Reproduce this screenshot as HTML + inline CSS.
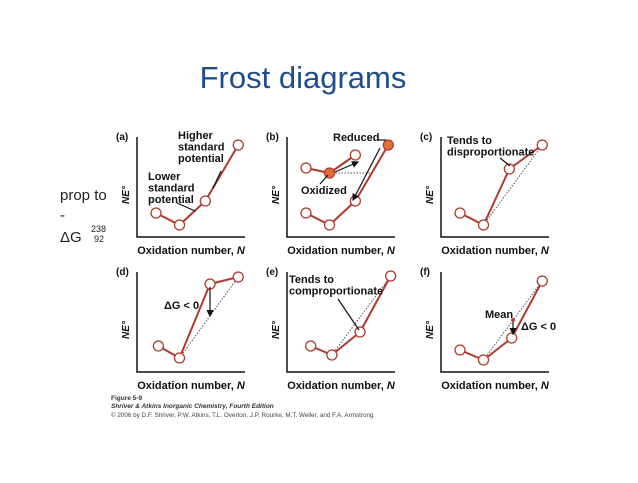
<!DOCTYPE html>
<html><head><meta charset="utf-8"><style>
body{margin:0;background:#fff;}
svg text{font-family:"Liberation Sans",sans-serif;}
</style></head><body>
<svg width="638" height="478" viewBox="0 0 638 478" xmlns="http://www.w3.org/2000/svg">
<defs><marker id="ar" markerWidth="6" markerHeight="6" refX="5" refY="3" orient="auto"><path d="M0,0 L6,3 L0,6 z" fill="#111"/></marker></defs>
<text x="303" y="88" font-size="31" fill="#1f4e8c" text-anchor="middle">Frost diagrams</text>
<text x="60" y="200" font-size="15" fill="#222">prop to</text>
<text x="60" y="220" font-size="15" fill="#222">-</text>
<text x="60" y="242" font-size="15" fill="#222">ΔG</text>
<text x="91" y="232" font-size="9" fill="#222">238</text>
<text x="94" y="242" font-size="9" fill="#222">92</text>
<g id="charts"></g>
<g font-size="11" font-weight="bold" fill="#111">
<text x="178" y="139"><tspan x="178">Higher</tspan><tspan x="178" dy="11.5">standard</tspan><tspan x="178" dy="11.5">potential</tspan></text>
<text x="148" y="180"><tspan x="148">Lower</tspan><tspan x="148" dy="11.5">standard</tspan><tspan x="148" dy="11.5">potential</tspan></text>
<text x="333" y="141">Reduced</text>
<text x="301" y="194">Oxidized</text>
<text x="447" y="144"><tspan x="447">Tends to</tspan><tspan x="447" dy="11.5">disproportionate</tspan></text>
<text x="289" y="283"><tspan x="289">Tends to</tspan><tspan x="289" dy="11.5">comproportionate</tspan></text>
<text x="164" y="309">ΔG &lt; 0</text>
<text x="485" y="318">Mean</text>
<text x="521" y="330">ΔG &lt; 0</text>
</g>
<g stroke="#111" stroke-width="1.2" fill="none">
<line x1="221" y1="171" x2="213" y2="188"/>
<line x1="177" y1="203" x2="195" y2="211"/>
<line x1="378" y1="140" x2="386" y2="140"/>
<line x1="320" y1="184" x2="328" y2="175"/>
<line x1="335" y1="172" x2="358" y2="162" marker-end="url(#ar)"/>
<line x1="380" y1="148" x2="353" y2="200" marker-end="url(#ar)"/>
<line x1="500" y1="158" x2="510" y2="166"/>
<line x1="338" y1="299" x2="359" y2="330"/>
<line x1="210" y1="287" x2="210" y2="316" marker-end="url(#ar)"/>
<line x1="513" y1="322" x2="513" y2="334" marker-end="url(#ar)"/>
</g>
<circle cx="513" cy="320" r="2" fill="#c0392b"/>
<text x="111" y="400" font-size="6.5" font-weight="bold" fill="#333">Figure 5-9</text>
<text x="111" y="408" font-size="6.5" font-weight="bold" font-style="italic" fill="#333">Shriver &amp; Atkins Inorganic Chemistry, Fourth Edition</text>
<text x="111" y="417" font-size="6.3" fill="#444">© 2006 by D.F. Shriver, P.W. Atkins, T.L. Overton, J.P. Rourke, M.T. Weller, and F.A. Armstrong</text>
</svg>
<script>
const panelLabels=["(a)","(b)","(c)","(d)","(e)","(f)"];
const nA=[0,1,2.1,3.5], neA=[2.4,1.2,3.6,9.2];
const nBup=[0,1,2.1], neBup=[6.9,6.4,8.2];
const nB=[0,1,2.1,3.5], neB=[2.4,1.2,3.6,9.2];
const nC=[0,1,2.1,3.5], neC=[2.4,1.2,6.8,9.2];
const nD=[0.1,1,2.3,3.5], neD=[2.6,1.4,8.8,9.5];
const nE=[0.2,1.1,2.3,3.6], neE=[2.6,1.7,4.0,9.6];
const nF=[0,1,2.2,3.5], neF=[2.2,1.2,3.4,9.1];
const NS='http://www.w3.org/2000/svg';
const g=document.getElementById('charts');
const panels=[
 {ox:137,bot:237,n:nA,ne:neA,dot:null},
 {ox:287,bot:237,n:nB,ne:neB,dot:[1,2.8,'x'],up:true},
 {ox:441,bot:237,n:nC,ne:neC,dot:[1,3]},
 {ox:137,bot:372,n:nD,ne:neD,dot:[1,3]},
 {ox:287,bot:372,n:nE,ne:neE,dot:[1,3]},
 {ox:441,bot:372,n:nF,ne:neF,dot:[1,3]}];
function mk(t,a){const e=document.createElementNS(NS,t);for(const k in a)e.setAttribute(k,a[k]);g.appendChild(e);return e;}
function xs(p,n){return p.ox+19+n*23.5;}
function ys(p,v){return p.bot-v*10;}
function series(p,n,ne,filled,nm){
 let d='';n.forEach((v,i)=>{d+=(i?'L':'M')+xs(p,v)+','+ys(p,ne[i]);});
 const l=mk('path',{d:d,fill:'none',stroke:'#b03a2e','stroke-width':2});
 
 
 n.forEach((v,i)=>{const c=mk('circle',{cx:xs(p,v),cy:ys(p,ne[i]),r:5,fill:(filled&&filled.includes(i))?'#e0703a':'#fff',stroke:'#b03a2e','stroke-width':1.3});
  
  });
}
panels.forEach((p,k)=>{
 const ax=mk('path',{d:`M${p.ox},${p.bot-100}L${p.ox},${p.bot}L${p.ox+108},${p.bot}`,fill:'none',stroke:'#111','stroke-width':1.5});
 
 
 const lb=mk('text',{x:p.ox-21,y:p.bot-97,'font-size':10,'font-weight':'bold',fill:'#111'});lb.textContent=panelLabels[k];
 
 
 const yl=mk('text',{x:0,y:0,'font-size':10,'font-weight':'bold','font-style':'italic',fill:'#111',transform:`translate(${p.ox-8},${p.bot-42}) rotate(-90)`,'text-anchor':'middle'});yl.textContent='NE°';
 
 
 const xl=mk('text',{x:p.ox+54,y:p.bot+17,'font-size':11,'font-weight':'bold',fill:'#111','text-anchor':'middle'});xl.innerHTML='Oxidation number, <tspan font-style="italic">N</tspan>';
 
 
 if(p.dot&&!p.up){const a=p.dot[0],b=p.dot[1];
  const dl=mk('line',{x1:xs(p,p.n[a]),y1:ys(p,p.ne[a]),x2:xs(p,p.n[b]),y2:ys(p,p.ne[b]),stroke:'#555','stroke-width':1,'stroke-dasharray':'1.5,1.5'});
  
  }
 if(p.up){const dl=mk('line',{x1:xs(p,nBup[1]),y1:ys(p,neBup[1]),x2:xs(p,nBup[1])+42,y2:ys(p,neBup[1]),stroke:'#555','stroke-width':1,'stroke-dasharray':'1.5,1.5'});
  
  
  series(p,nBup,neBup,[1],'oxidized-series');
  series(p,p.n,p.ne,[3],'reduced-series');}
 else series(p,p.n,p.ne,null,'series-'+'abcdef'[k]);
});
</script>
</body></html>
